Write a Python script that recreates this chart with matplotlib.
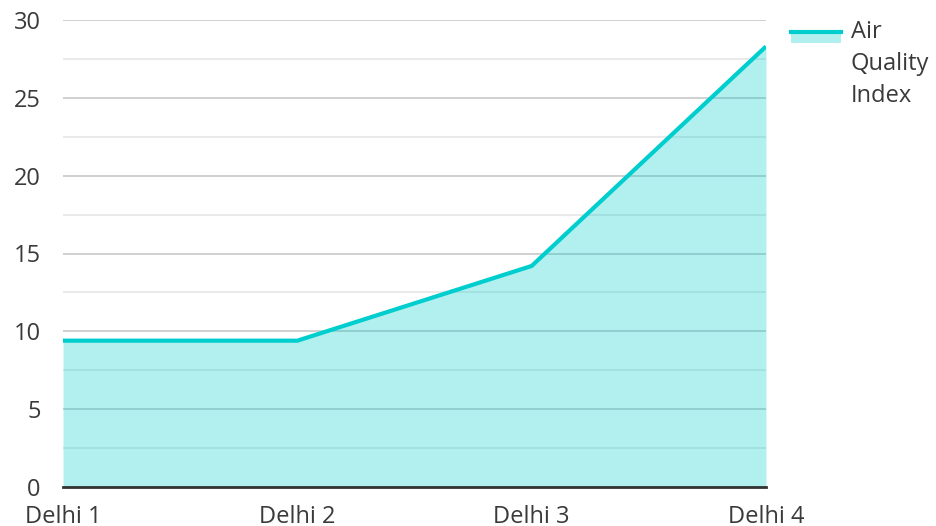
import matplotlib
matplotlib.use("Agg")
import matplotlib.pyplot as plt
from matplotlib.patches import Rectangle
from matplotlib.lines import Line2D
import numpy as np

plt.rcParams['font.family'] = ['Open Sans', 'DejaVu Sans']

categories = ["Delhi 1", "Delhi 2", "Delhi 3", "Delhi 4"]
aqi = [9.4, 9.4, 14.2, 28.3]
series_name = "Air\nQuality\nIndex"

LINE_COL = "#00cece"
TEXT_COL = "#3a3a3a"
W, H = 936, 526

fig = plt.figure(figsize=(W / 100, H / 100), dpi=100)
ax = fig.add_axes([63 / W, 1 - 487 / H, (766 - 63) / W, (487 - 20) / H])

x = np.arange(len(categories))
ax.fill_between(x, 0, aqi, color=LINE_COL, alpha=0.3, linewidth=0, zorder=1)
ax.plot(x, aqi, color=LINE_COL, linewidth=3, solid_capstyle='butt', zorder=3)

ax.set_xlim(0, len(categories) - 1)
ax.set_ylim(0, 30)
ax.set_yticks(np.arange(0, 31, 5))
ax.set_yticks(np.arange(2.5, 30, 5), minor=True)
ax.grid(axis='y', which='major', color='#c8c8c8', linewidth=1.2, zorder=0)
ax.grid(axis='y', which='minor', color='#e6e6e6', linewidth=1.2, zorder=0)
ax.set_axisbelow(True)

ax.set_xticks(x)
ax.set_xticklabels(categories)
ax.tick_params(axis='both', which='both', length=0, labelsize=17, colors=TEXT_COL)
ax.tick_params(axis='y', pad=16)
ax.tick_params(axis='x', pad=13)

for s in ['top', 'right', 'left']:
    ax.spines[s].set_visible(False)
ax.spines['bottom'].set_color('#333333')
ax.spines['bottom'].set_linewidth(2)
ax.spines['bottom'].set_zorder(4)

# legend drawn by hand: line over a filled swatch
fig.add_artist(Rectangle((791 / W, 1 - 43 / H), 50 / W, 12 / H,
                         transform=fig.transFigure, color=LINE_COL, alpha=0.3, lw=0))
fig.add_artist(Line2D([791 / W, 841 / W], [1 - 32 / H, 1 - 32 / H],
                      transform=fig.transFigure, color=LINE_COL, lw=3))
fig.text(851 / W, 1 - 20 / H, series_name, ha='left', va='top',
         fontsize=17, color=TEXT_COL, linespacing=1.45)

fig.savefig("out.png", dpi=100)
